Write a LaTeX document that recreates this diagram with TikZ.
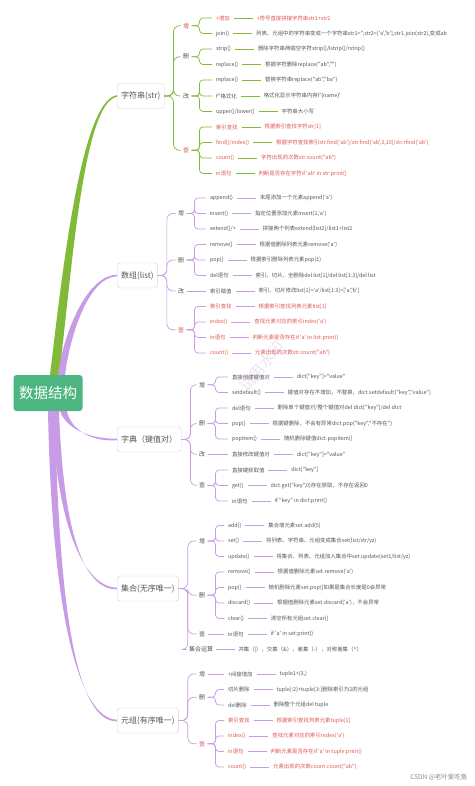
\documentclass[tikz,border=0pt]{standalone}
\usepackage{fontspec}
\setmainfont{Noto Sans CJK SC}[Ligatures=TeXOff]
\usetikzlibrary{positioning}
\definecolor{strgreen}{RGB}{128,186,56}
\definecolor{lav}{RGB}{200,155,230}
\definecolor{hotred}{RGB}{222,85,85}
\definecolor{txt}{RGB}{85,85,85}
\definecolor{rootgreen}{RGB}{77,182,128}
\definecolor{boxline}{RGB}{214,214,214}

\begin{document}
\begin{tikzpicture}[x=1pt,y=1pt,node distance=19pt,
    root/.style={fill=rootgreen,rounded corners=3pt,text=white,font=\fontsize{14.5}{16}\selectfont,minimum width=69pt,minimum height=36pt,inner sep=0pt},
    topic/.style={draw=boxline,fill=white,rounded corners=3pt,text=txt,font=\fontsize{8}{9}\selectfont,minimum height=25pt,inner xsep=4pt,anchor=west},
    sub/.style={text=txt,font=\fontsize{6}{7}\selectfont,inner sep=1.5pt,outer sep=1pt,anchor=west},
    item/.style={text=txt,font=\fontsize{5.4}{6}\selectfont,inner sep=2pt,outer sep=2pt,anchor=west},
    hot/.style={text=hotred},
    gline/.style={draw=strgreen,line width=0.7pt},
    pline/.style={draw=lav,line width=0.7pt},
    trunk/.style={rounded corners=6pt},
    brace/.style={rounded corners=3.5pt}]
\useasboundingbox (0,0) rectangle (474,-786);

% watermarks
\node[rotate=50,text=lav,opacity=0.3,font=\fontsize{15}{17}\selectfont] (wm) at (262,-366) {试用水印};
\node[anchor=east,text=black!45,font=\fontsize{6.5}{7}\selectfont] (csdn) at (471,-777) {CSDN @老叶爱吃鱼};

% root and main branches
\node[root] (root) at (48,-393) {数据结构};
\node[topic] (str) at (117,-96) {字符串(str)};
\node[topic] (list) at (117,-275.5) {数组(list)};
\node[topic] (dict) at (117,-439.5) {字典（键值对）};
\node[topic] (set) at (117,-588.5) {集合(无序唯一)};
\node[topic] (tup) at (117,-720.5) {元组(有序唯一)};

\fill[strgreen] ([xshift=2pt]root.north) .. controls (61,-285) and (80,-100) .. ([yshift=0.8pt]str.west)
    -- ([yshift=-0.8pt]str.west) .. controls (82,-102) and (71,-285) .. ([xshift=11pt]root.north) -- cycle;
\fill[lav] ([xshift=10pt]root.north) .. controls (64,-330) and (88,-275) .. ([yshift=0.8pt]list.west)
    -- ([yshift=-0.8pt]list.west) .. controls (90,-277) and (71,-330) .. ([xshift=17pt]root.north) -- cycle;
\fill[lav] ([xshift=12pt]root.south) .. controls (66,-428) and (88,-439) .. ([yshift=0.8pt]dict.west)
    -- ([yshift=-0.8pt]dict.west) .. controls (86,-442) and (70,-426) .. ([xshift=19pt]root.south) -- cycle;
\fill[lav] ([xshift=4pt]root.south) .. controls (56,-520) and (82,-587) .. ([yshift=0.8pt]set.west)
    -- ([yshift=-0.8pt]set.west) .. controls (80,-590) and (63,-520) .. ([xshift=11pt]root.south) -- cycle;
\fill[lav] ([xshift=0pt]root.south) .. controls (52,-620) and (80,-719) .. ([yshift=0.8pt]tup.west)
    -- ([yshift=-0.8pt]tup.west) .. controls (78,-722) and (59,-620) .. ([xshift=7pt]root.south) -- cycle;

% 字符串
\node[sub,hot] (sa) at (180.5,-25.75) {增};
\node[sub] (sb) at (180.5,-56.75) {删};
\node[sub] (sc) at (180.5,-96) {改};
\node[sub,hot] (sd) at (180.5,-150.25) {查};
\node[item,hot] (s1) at (212,-18) {+增加};
\node[item,hot,right=of s1] (s1d) {+符号直接拼接字符串str1+str2};
\node[item] (s2) at (212,-33.5) {join()};
\node[item,right=of s2] (s2d) {列表、元组中的字符串变成一个字符串str1='',str2=['a','b'],str1.join(str2),变成ab};
\node[item] (s3) at (212,-49) {strip()};
\node[item,right=of s3] (s3d) {删除字符串两端空字符strip()/lstrip()/rstrip()};
\node[item] (s4) at (212,-64.5) {replace()};
\node[item,right=of s4] (s4d) {根据字符删除replace("ab","")};
\node[item] (s5) at (212,-80) {replace()};
\node[item,right=of s5] (s5d) {替换字符串replace("ab","ba")};
\node[item] (s6) at (212,-96) {f"格式化};
\node[item,right=of s6] (s6d) {格式化显示字符串内容f'\{name\}'};
\node[item] (s7) at (212,-111.5) {upper()/lower()};
\node[item,right=of s7] (s7d) {字符串大小写};
\node[item,hot] (s8) at (212,-127) {索引查找};
\node[item,hot,right=of s8] (s8d) {根据索引查找字符str[1]};
\node[item,hot] (s9) at (212,-142.5) {find()/index()};
\node[item,hot,right=of s9] (s9d) {根据字符查找索引str.find('ab')/str.find('ab',3,10)/str.rfind('ab')};
\node[item,hot] (s10) at (212,-158) {count()};
\node[item,hot,right=of s10] (s10d) {字符出现的次数str.count("ab")};
\node[item,hot] (s11) at (212,-173.5) {in语句};
\node[item,hot,right=of s11] (s11d) {判断是否存在字符if 'ab' in str:print()};

\foreach \k in {sa,sb,sc,sd} \draw[gline,trunk] (str.east) -- ++(9,0) |- (\k);
\foreach \k in {s1,s2} \draw[gline,brace] (sa.east) -- ++(8,0) |- (\k);
\foreach \k in {s3,s4} \draw[gline,brace] (sb.east) -- ++(8,0) |- (\k);
\foreach \k in {s5,s6,s7} \draw[gline,brace] (sc.east) -- ++(8,0) |- (\k);
\foreach \k in {s8,s9,s10,s11} \draw[gline,brace] (sd.east) -- ++(8,0) |- (\k);
\foreach \k in {s1,s2,s3,s4,s5,s6,s7,s8,s9,s10,s11} \draw[gline] (\k) -- (\k d);

% 数组
\node[sub] (la) at (175.5,-213.5) {增};
\node[sub] (lb) at (175.5,-260) {删};
\node[sub] (lc) at (175.5,-291) {改};
\node[sub,hot] (ld) at (175.5,-329.75) {查};
\node[item] (l1) at (206,-198) {append()};
\node[item,right=of l1] (l1d) {末尾添加一个元素append('a')};
\node[item] (l2) at (206,-213.5) {insert()};
\node[item,right=of l2] (l2d) {指定位置添加元素insert(1,'a')};
\node[item] (l3) at (206,-229) {extend()/+};
\node[item,right=of l3] (l3d) {拼接两个列表extend(list2)/list1+list2};
\node[item] (l4) at (206,-244.5) {remove()};
\node[item,right=of l4] (l4d) {根据值删除列表元素remove('a')};
\node[item] (l5) at (206,-260) {pop()};
\node[item,right=of l5] (l5d) {根据索引删除列表元素pop(1)};
\node[item] (l6) at (206,-275.5) {del语句};
\node[item,right=of l6] (l6d) {索引、切片、全删除del list[1]/del list[1:3]/del list};
\node[item] (l7) at (206,-291) {索引赋值};
\node[item,right=of l7] (l7d) {索引、切片修改list[1]='a'/list[1:3]=['a','b']};
\node[item,hot] (l8) at (206,-306.5) {索引查找};
\node[item,hot,right=of l8] (l8d) {根据索引查找列表元素list[1]};
\node[item,hot] (l9) at (206,-322) {index()};
\node[item,hot,right=of l9] (l9d) {查找元素对应的索引index('a')};
\node[item,hot] (l10) at (206,-337.5) {in语句};
\node[item,hot,right=of l10] (l10d) {判断元素是否存在if 'a' in list:print()};
\node[item,hot] (l11) at (206,-353) {count()};
\node[item,hot,right=of l11] (l11d) {元素出现的次数str.count("ab")};

\foreach \k in {la,lb,lc,ld} \draw[pline,trunk] (list.east) -- ++(9,0) |- (\k);
\foreach \k in {l1,l2,l3} \draw[pline,brace] (la.east) -- ++(8,0) |- (\k);
\foreach \k in {l4,l5,l6} \draw[pline,brace] (lb.east) -- ++(8,0) |- (\k);
\draw[pline] (lc) -- (l7);
\foreach \k in {l8,l9,l10,l11} \draw[pline,brace] (ld.east) -- ++(8,0) |- (\k);
\foreach \k in {l1,l2,l3,l4,l5,l6,l7,l8,l9,l10,l11} \draw[pline] (\k) -- (\k d);

% 字典
\node[sub] (da) at (196.5,-384.75) {增};
\node[sub] (db) at (196.5,-423.5) {删};
\node[sub] (dc) at (196.5,-454.5) {改};
\node[sub] (dd) at (196.5,-485.5) {查};
\node[item] (d1) at (228,-377) {直接创建键值对};
\node[item,right=of d1] (d1d) {dict["key"]="value"};
\node[item] (d2) at (228,-392.5) {setdefault()};
\node[item,right=of d2] (d2d) {键值对存在不增加，不替换，dict.setdefault("key","value")};
\node[item] (d3) at (228,-408) {del语句};
\node[item,right=of d3] (d3d) {删除单个键值对/整个键值对del dict["key"]/del dict};
\node[item] (d4) at (228,-423.5) {pop()};
\node[item,right=of d4] (d4d) {根据键删除，不会有异常dict.pop("key","不存在")};
\node[item] (d5) at (228,-439) {popitem()};
\node[item,right=of d5] (d5d) {随机删除键值dict.popitem()};
\node[item] (d6) at (228,-454.5) {直接修改键值对};
\node[item,right=of d6] (d6d) {dict["key"]="value"};
\node[item] (d7) at (228,-470) {直接键获取值};
\node[item,right=of d7] (d7d) {dict["key"]};
\node[item] (d8) at (228,-485.5) {get()};
\node[item,right=of d8] (d8d) {dict.get("key",0)存在获取，不存在返回0};
\node[item] (d9) at (228,-501) {in语句};
\node[item,right=of d9] (d9d) {if "key" in dict:print()};

\foreach \k in {da,db,dc,dd} \draw[pline,trunk] (dict.east) -- ++(9,0) |- (\k);
\foreach \k in {d1,d2} \draw[pline,brace] (da.east) -- ++(8,0) |- (\k);
\foreach \k in {d3,d4,d5} \draw[pline,brace] (db.east) -- ++(8,0) |- (\k);
\draw[pline] (dc) -- (d6);
\foreach \k in {d7,d8,d9} \draw[pline,brace] (dd.east) -- ++(8,0) |- (\k);
\foreach \k in {d1,d2,d3,d4,d5,d6,d7,d8,d9} \draw[pline] (\k) -- (\k d);

% 集合
\node[sub] (ea) at (196.5,-541) {增};
\node[sub] (eb) at (196.5,-595.25) {删};
\node[sub] (ec) at (196.5,-634) {查};
\node[sub] (ed) at (186.5,-649.5) {集合运算};
\node[item] (e1) at (224,-525.5) {add()};
\node[item,right=of e1] (e1d) {集合增元素set.add(5)};
\node[item] (e2) at (224,-541) {set()};
\node[item,right=of e2] (e2d) {将列表、字符串、元组变成集合set(list/str/yz)};
\node[item] (e3) at (224,-556.5) {update()};
\node[item,right=of e3] (e3d) {将集合、列表、元组加入集合中set.update(set1/list/yz)};
\node[item] (e4) at (224,-572) {remove()};
\node[item,right=of e4] (e4d) {根据值删除元素set.remove('a')};
\node[item] (e5) at (224,-587.5) {pop()};
\node[item,right=of e5] (e5d) {随机删除元素set.pop()如果是集合长度是0会异常};
\node[item] (e6) at (224,-603) {discard()};
\node[item,right=of e6] (e6d) {根据值删除元素set.discard('a')，不会异常};
\node[item] (e7) at (224,-618.5) {clear()};
\node[item,right=of e7] (e7d) {清空所有元组set.clear()};
\node[item] (e8) at (224,-634) {in语句};
\node[item,right=of e8] (e8d) {if 'a' in set:print()};
\node[item,right=of ed] (edd) {并集（|），交集（\&），差集（-），对称差集（\^{}）};

\foreach \k in {ea,eb,ec,ed} \draw[pline,trunk] (set.east) -- ++(9,0) |- (\k);
\foreach \k in {e1,e2,e3} \draw[pline,brace] (ea.east) -- ++(8,0) |- (\k);
\foreach \k in {e4,e5,e6,e7} \draw[pline,brace] (eb.east) -- ++(8,0) |- (\k);
\draw[pline] (ec) -- (e8);
\draw[pline] (ed) -- (edd);
\foreach \k in {e1,e2,e3,e4,e5,e6,e7,e8} \draw[pline] (\k) -- (\k d);

% 元组
\node[sub] (ua) at (196.5,-674) {增};
\node[sub] (ub) at (196.5,-697.25) {删};
\node[sub,hot] (uc) at (196.5,-743.75) {查};
\node[item] (u1) at (224,-674) {+间接增加};
\node[item,right=of u1] (u1d) {tuple1+(3,)};
\node[item] (u2) at (224,-689.5) {切片删除};
\node[item,right=of u2] (u2d) {tuple[:2]+tuple[3:]删除索引为2的元组};
\node[item] (u3) at (224,-705) {del删除};
\node[item,right=of u3] (u3d) {删除整个元组del tuple};
\node[item,hot] (u4) at (224,-720.5) {索引查找};
\node[item,hot,right=of u4] (u4d) {根据索引查找列表元素tuple[1]};
\node[item,hot] (u5) at (224,-736) {index()};
\node[item,hot,right=of u5] (u5d) {查找元素对应的索引index('a')};
\node[item,hot] (u6) at (224,-751.5) {in语句};
\node[item,hot,right=of u6] (u6d) {判断元素是否存在if 'a' in tuple:print()};
\node[item,hot] (u7) at (224,-767) {count()};
\node[item,hot,right=of u7] (u7d) {元素出现的次数count.count("ab")};

\foreach \k in {ua,ub,uc} \draw[pline,trunk] (tup.east) -- ++(9,0) |- (\k);
\draw[pline] (ua) -- (u1);
\foreach \k in {u2,u3} \draw[pline,brace] (ub.east) -- ++(8,0) |- (\k);
\foreach \k in {u4,u5,u6,u7} \draw[pline,brace] (uc.east) -- ++(8,0) |- (\k);
\foreach \k in {u1,u2,u3,u4,u5,u6,u7} \draw[pline] (\k) -- (\k d);
\end{tikzpicture}
\end{document}
